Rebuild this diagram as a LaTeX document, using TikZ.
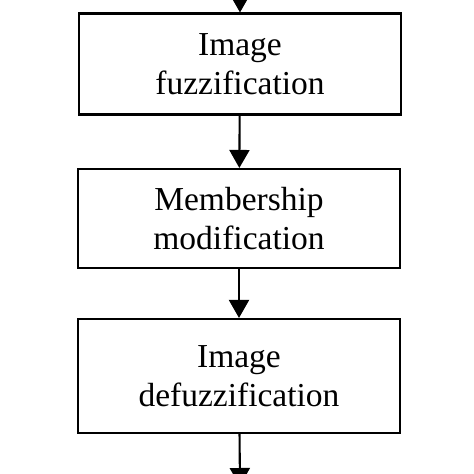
\documentclass[tikz,border=0pt]{standalone}
\usepackage{fontspec}
\setmainfont{Liberation Serif}
\usepackage{tikz}
\usetikzlibrary{arrows.meta, positioning}

\begin{document}
\begin{tikzpicture}[x=1pt, y=1pt,
  box/.style={draw, line width=2.1pt, minimum width=322pt, align=center, inner sep=0pt,
    font=\fontsize{33.5}{39}\selectfont},
  flow/.style={-{Triangle[length=18pt, width=20pt]}, line width=2.1pt}
]
  \useasboundingbox (0,0) rectangle (474,-474);

  \coordinate (in) at (240,20);
  \node[box, minimum height=101pt] (fuzz) at (240,-64) {Image\\fuzzification};
  \node[box, minimum height=99pt] (modif) at (239,-218.5) {Membership\\modification};
  \node[box, minimum height=114pt] (defuzz) at (239,-376) {Image\\defuzzification};
  \coordinate (out) at (240,-486);

  \draw[flow] (in) -- (fuzz);
  \draw[flow] (fuzz) -- (modif);
  \draw[flow] (modif) -- (defuzz);
  \draw[flow] (defuzz) -- (out);
\end{tikzpicture}
\end{document}
